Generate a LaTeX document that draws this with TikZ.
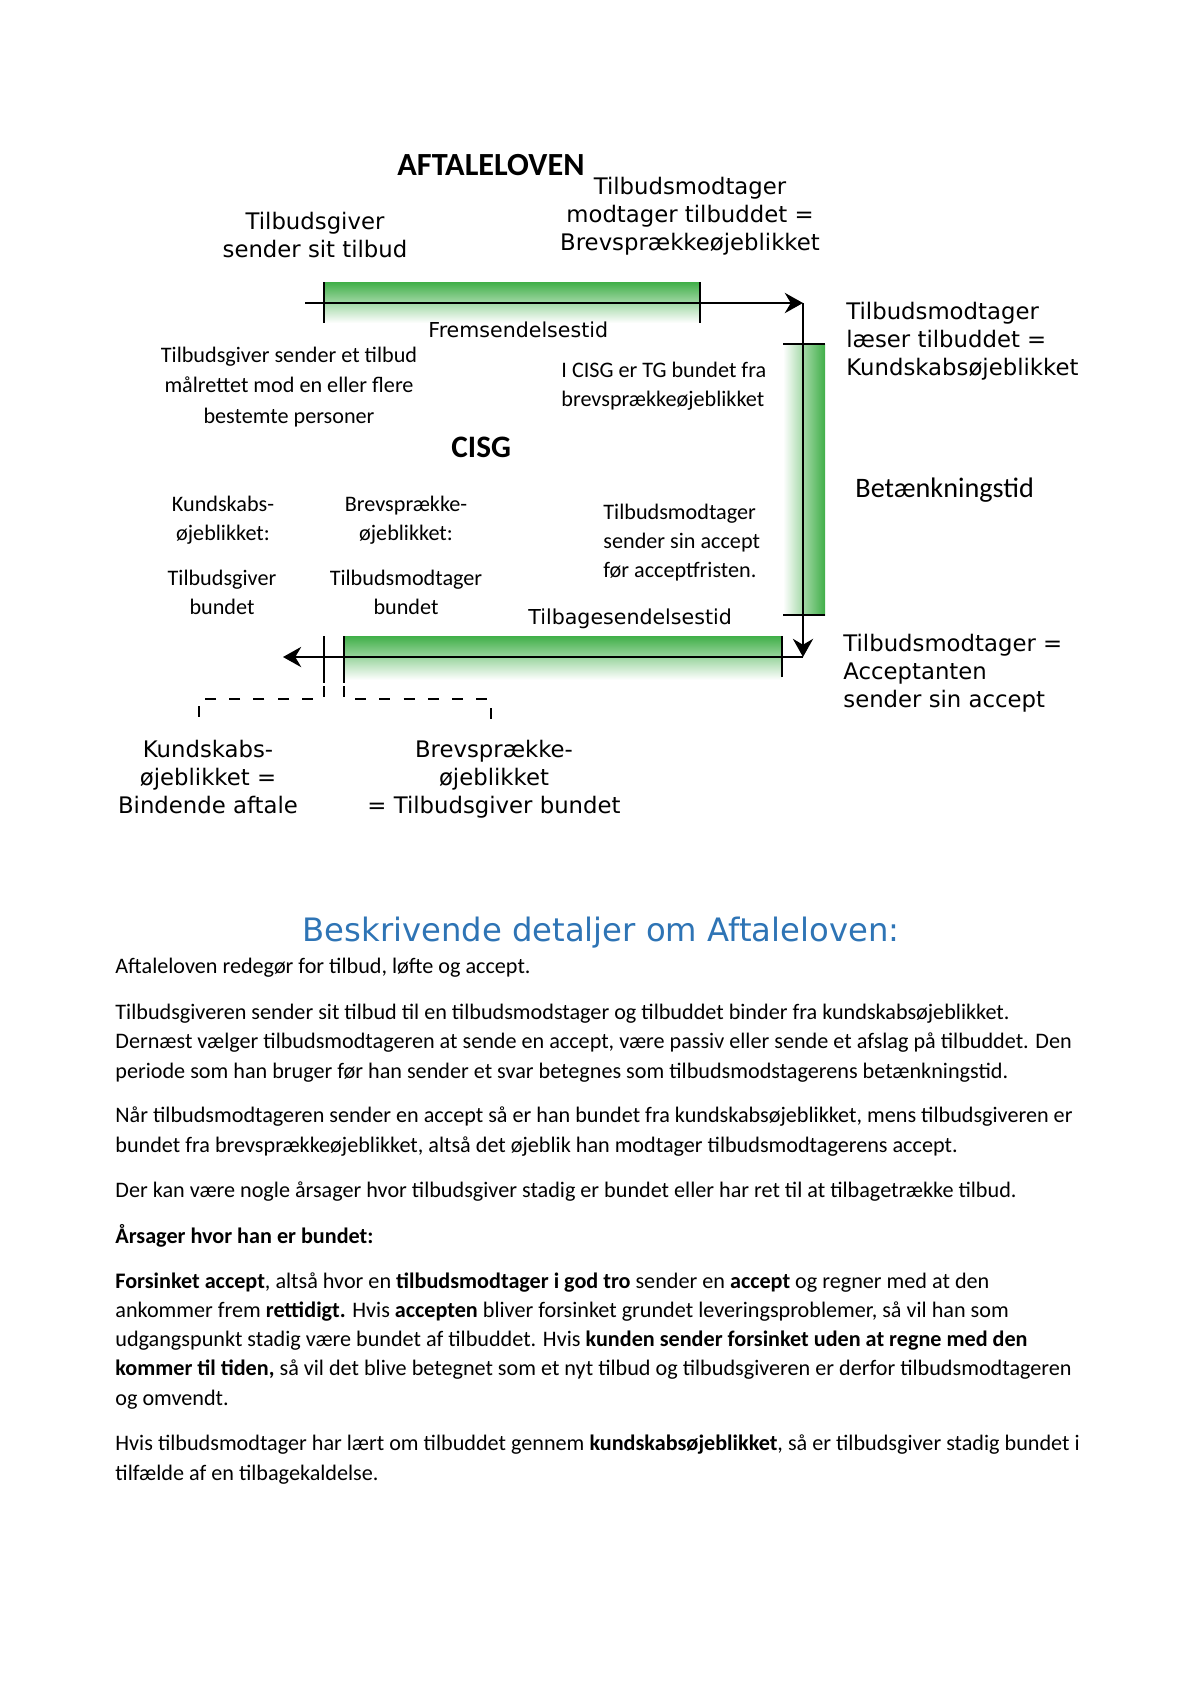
\documentclass[tikz,border=0pt]{standalone}
\usepackage{fontspec}
\setmainfont{Carlito}
\newfontfamily\dejavu{DejaVu Sans}
\usetikzlibrary{arrows.meta}
\definecolor{barGreen}{RGB}{64,175,72}
\definecolor{headBlue}{RGB}{46,116,181}
\tikzset{
	biglabel/.style={font=\dejavu\fontsize{11.3}{13.7}\selectfont, inner sep=0pt},
	timelabel/.style={font=\dejavu\fontsize{10.2}{12}\selectfont, inner sep=0pt},
	smalllabel/.style={font=\fontsize{11}{14.3}\selectfont, inner sep=0pt},
	bodytext/.style={font=\fontsize{11}{14.5}\selectfont, inner sep=0pt, align=left, anchor=base west},
	timeline/.style={line width=1.3pt, -{Stealth[length=9pt, width=10pt]}},
	tick/.style={line width=1.3pt},
	bracket/.style={line width=1pt, dash pattern=on 5.5pt off 6.5pt}
}
\begin{document}
\begin{tikzpicture}[x=0.49607pt, y=-0.49607pt]
	\useasboundingbox (0, 0) rectangle (1200, 1698);
	\shade[top color=barGreen, middle color=barGreen!55, bottom color=white] (324, 282) rectangle (700, 323);
	\shade[left color=white, middle color=barGreen!70, right color=barGreen] (783, 344) rectangle (825, 615);
	\shade[top color=barGreen, middle color=barGreen!55, bottom color=white] (344, 636) rectangle (782, 680);
	\coordinate (start) at (305, 303);
	\coordinate (turn) at (803, 303);
	\coordinate (corner) at (803, 657);
	\coordinate (back) at (283, 657);
	\draw[timeline] (start) -- (turn);
	\draw[timeline] (turn) -- (corner);
	\draw[timeline] (corner) -- (back);
	\draw[tick] (324, 282) -- (324, 323);
	\draw[tick] (700, 282) -- (700, 323);
	\draw[tick] (783, 344) -- (825, 344);
	\draw[tick] (783, 615) -- (825, 615);
	\draw[tick] (324, 636) -- (324, 683);
	\draw[tick] (344, 636) -- (344, 683);
	\draw[tick] (782, 636) -- (782, 677);
	\draw[bracket] (324, 686) -- (324, 699) -- (199, 699) -- (199, 720);
	\draw[bracket] (344, 686) -- (344, 699) -- (491, 699) -- (491, 720);
	\node[font=\bfseries\fontsize{16}{19}\selectfont, inner sep=0pt, anchor=base west] (aftl) at (397, 175) {AFTALELOVEN};
	\node[biglabel, align=center, anchor=base] (giver) at (315, 257) {Tilbudsgiver\\sender sit tilbud};
	\node[biglabel, align=center, anchor=base] (modt) at (690, 250) {Tilbudsmodtager\\modtager tilbuddet =\\Brevsprækkeøjeblikket};
	\node[biglabel, align=left, anchor=base west] (laeser) at (846, 375) {Tilbudsmodtager\\læser tilbuddet =\\Kundskabsøjeblikket};
	\node[timelabel, anchor=base west] (frem) at (428, 337) {Fremsendelsestid};
	\node[smalllabel, font=\fontsize{11}{14.9}\selectfont, align=center, anchor=base] (maal) at (289, 423) {Tilbudsgiver sender et tilbud\\målrettet mod en eller flere\\bestemte personer};
	\node[smalllabel, align=left, anchor=base west] (tgbund) at (561, 406) {I CISG er TG bundet fra\\brevsprækkeøjeblikket};
	\node[font=\bfseries\fontsize{15.5}{18}\selectfont, inner sep=0pt, anchor=base west] (cisg) at (451, 457) {CISG};
	\node[smalllabel, align=center, anchor=base] (kundo) at (223, 540) {Kundskabs-\\øjeblikket:};
	\node[smalllabel, align=center, anchor=base] (giverb) at (222, 614) {Tilbudsgiver\\bundet};
	\node[smalllabel, align=center, anchor=base] (brevo) at (406, 540) {Brevsprække-\\øjeblikket:};
	\node[smalllabel, align=center, anchor=base] (modtb) at (406, 614) {Tilbudsmodtager\\bundet};
	\node[smalllabel, align=left, anchor=base west] (frist) at (603, 577) {Tilbudsmodtager\\sender sin accept\\før acceptfristen.};
	\node[font=\fontsize{14}{17}\selectfont, inner sep=0pt, anchor=base west] (betaenk) at (855, 497) {Betænkningstid};
	\node[timelabel, anchor=base west] (tilbage) at (528, 624) {Tilbagesendelsestid};
	\node[biglabel, align=left, anchor=base west] (accept) at (843, 707) {Tilbudsmodtager =\\Acceptanten\\sender sin accept};
	\node[biglabel, align=center, anchor=base] (binde) at (208, 813) {Kundskabs-\\øjeblikket =\\Bindende aftale};
	\node[biglabel, align=center, anchor=base] (brevb) at (494, 813) {Brevsprække-\\øjeblikket\\= Tilbudsgiver bundet};
	\node[font=\dejavu\fontsize{16}{19}\selectfont, text=headBlue, inner sep=0pt, anchor=base] (head) at (601, 941) {Beskrivende detaljer om Aftaleloven:};
	\node[bodytext] (p1) at (115, 973) {Aftaleloven redegør for tilbud, løfte og accept.};
	\node[bodytext] (p2) at (115, 1078) {Tilbudsgiveren sender sit tilbud til en tilbudsmodstager og tilbuddet binder fra kundskabsøjeblikket.\\Dernæst vælger tilbudsmodtageren at sende en accept, være passiv eller sende et afslag på tilbuddet. Den\\periode som han bruger før han sender et svar betegnes som tilbudsmodstagerens betænkningstid.};
	\node[bodytext] (p3) at (115, 1152) {Når tilbudsmodtageren sender en accept så er han bundet fra kundskabsøjeblikket, mens tilbudsgiveren er\\bundet fra brevsprækkeøjeblikket, altså det øjeblik han modtager tilbudsmodtagerens accept.};
	\node[bodytext] (p4) at (115, 1197) {Der kan være nogle årsager hvor tilbudsgiver stadig er bundet eller har ret til at tilbagetrække tilbud.};
	\node[bodytext] (p5) at (115, 1243) {\textbf{Årsager hvor han er bundet:}};
	\node[bodytext] (p6) at (115, 1405) {\textbf{Forsinket accept}, altså hvor en \textbf{tilbudsmodtager i god tro} sender en \textbf{accept} og regner med at den\\ankommer frem \textbf{rettidigt.} Hvis \textbf{accepten} bliver forsinket grundet leveringsproblemer, så vil han som\\udgangspunkt stadig være bundet af tilbuddet. Hvis \textbf{kunden sender forsinket uden at regne med den}\\\textbf{kommer til tiden,} så vil det blive betegnet som et nyt tilbud og tilbudsgiveren er derfor tilbudsmodtageren\\og omvendt.};
	\node[bodytext] (p7) at (115, 1480) {Hvis tilbudsmodtager har lært om tilbuddet gennem \textbf{kundskabsøjeblikket}, så er tilbudsgiver stadig bundet i\\tilfælde af en tilbagekaldelse.};
\end{tikzpicture}
\end{document}
